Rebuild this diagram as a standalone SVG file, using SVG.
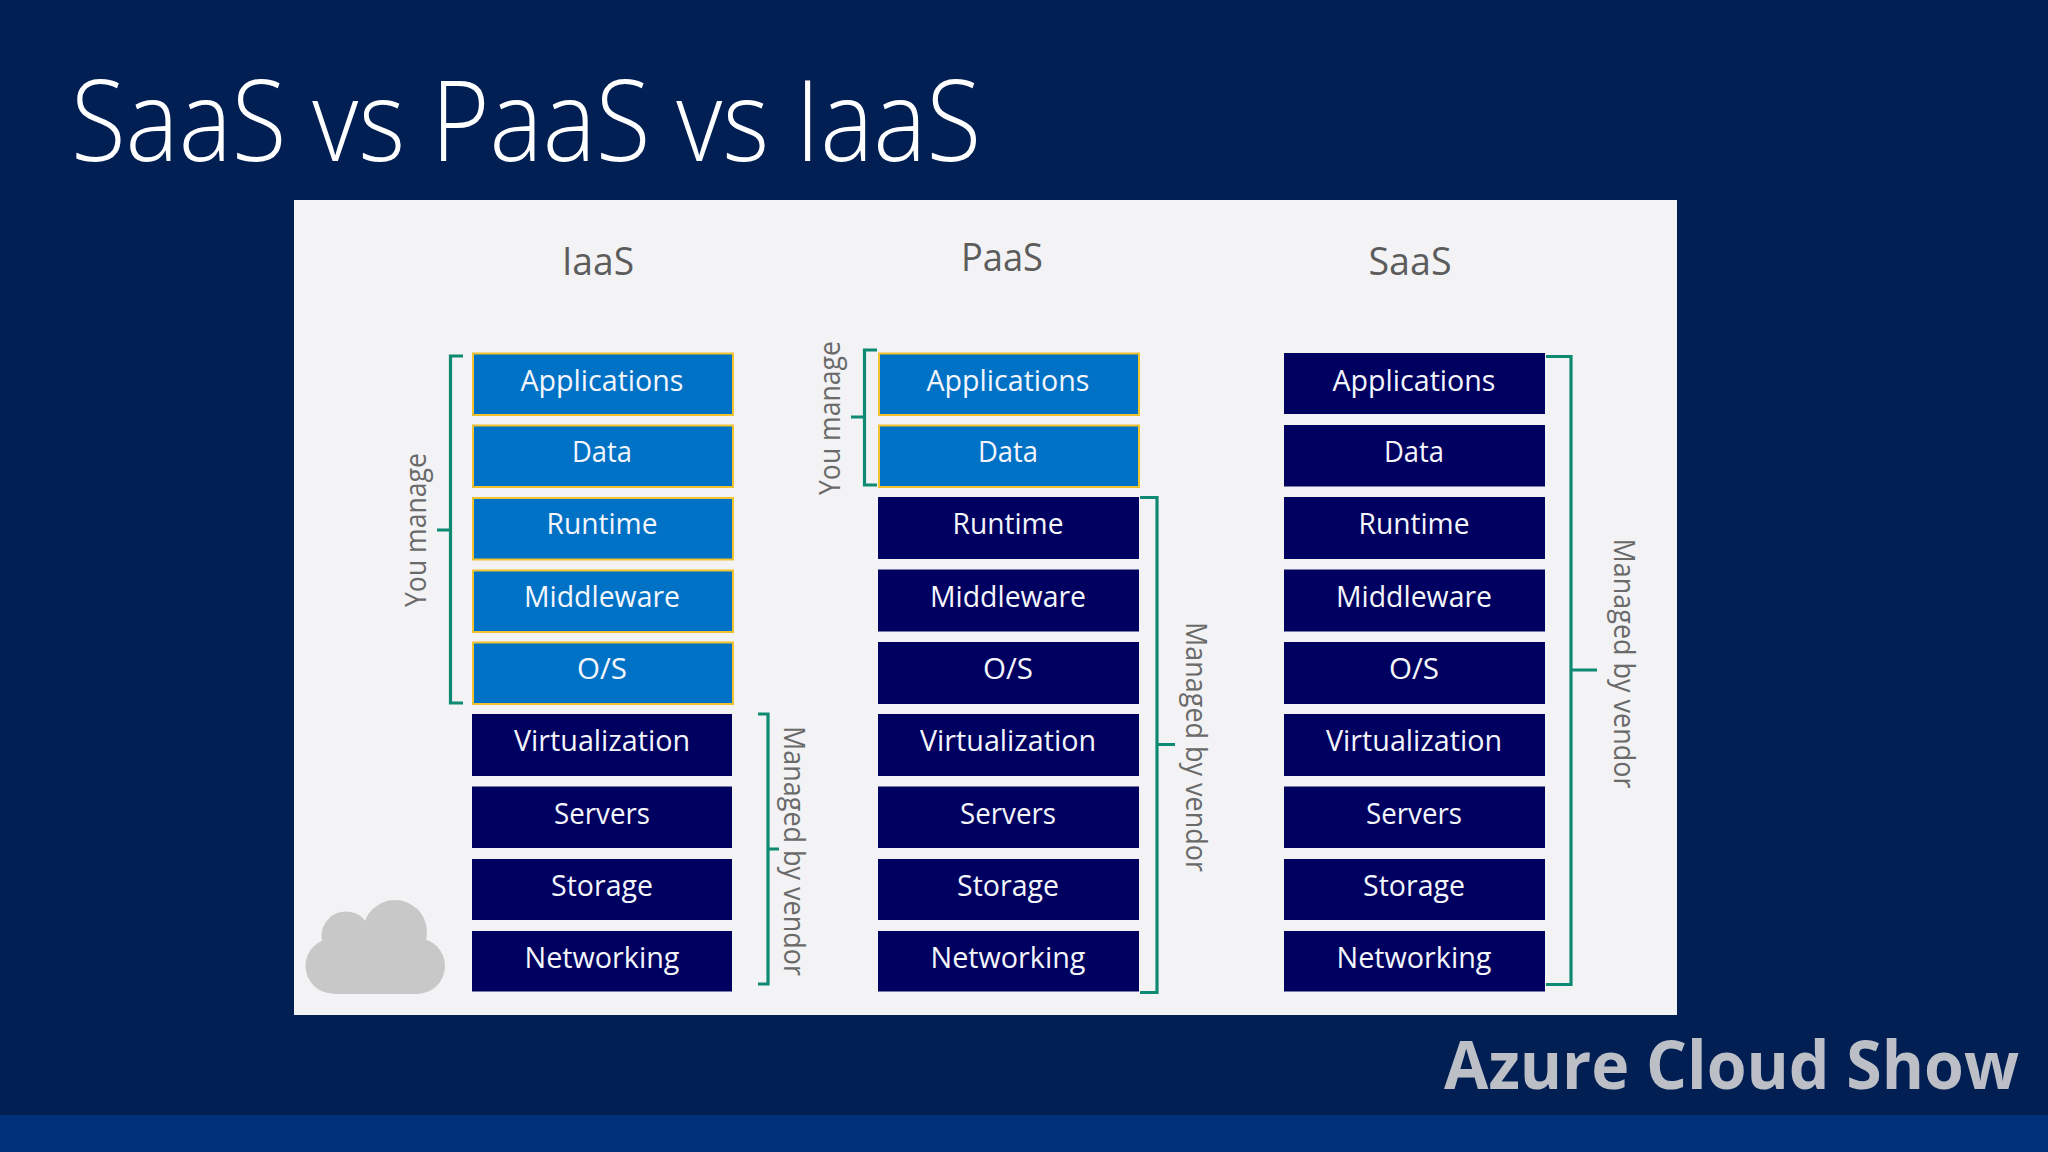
<svg xmlns="http://www.w3.org/2000/svg" width="2048" height="1152" viewBox="0 0 2048 1152">
<style>
text{font-family:"Open Sans","Noto Sans","Liberation Sans",sans-serif}
.t{font-size:112px;font-weight:300;fill:#fff}
.h{font-size:38px;fill:#5c5c5c;text-anchor:middle}
.l{font-size:29px;fill:#f4f6fc;text-anchor:middle}
.s{font-size:29px;fill:#6a6a6a;text-anchor:middle}
.y{fill:#0072c6;stroke:#f2c32e;stroke-width:2}
.n{fill:#000060}
#connectors path{fill:none;stroke:#0f8a72;stroke-width:3.2}
</style>
<rect width="2048" height="1152" fill="#021f54"/>
<rect y="1115" width="2048" height="37" fill="#00307a"/>
<text class="t" x="71" y="161" textLength="910" lengthAdjust="spacingAndGlyphs">SaaS vs PaaS vs IaaS</text>
<rect x="294" y="200" width="1383" height="815" fill="#f3f3f5"/>
<text class="h" x="598" y="275" textLength="72" lengthAdjust="spacingAndGlyphs">IaaS</text>
<text class="h" x="1002" y="271" textLength="82" lengthAdjust="spacingAndGlyphs">PaaS</text>
<text class="h" x="1410" y="275" textLength="83" lengthAdjust="spacingAndGlyphs">SaaS</text>
<g id="cloud" fill="#c8c8c8">
<circle cx="395" cy="932" r="32"/><circle cx="346" cy="936" r="24.500"/><circle cx="333" cy="966" r="27.500"/><circle cx="417" cy="966" r="28"/><rect x="333" y="940" width="84" height="54"/><rect x="322" y="945" width="104" height="20"/>
</g>
<g id="connectors">
<path d="M463 356H450.500V703H463M450.500 530H437"/>
<path d="M758 714H768V984H758M768 849H779"/>
<path d="M877 350H864.500V485H877M864.500 417H851"/>
<path d="M1140 497.500H1157V992.500H1140M1157 744.500H1175"/>
<path d="M1546 356.500H1571V984.500H1546M1571 670H1597"/>
</g>
<g id="iaas-applications"><rect class="y" x="473" y="353.500" width="260" height="61.500"/><text class="l" x="602" y="391" textLength="163" lengthAdjust="spacingAndGlyphs">Applications</text></g>
<g id="iaas-data"><rect class="y" x="473" y="425.500" width="260" height="61.500"/><text class="l" x="602" y="462" textLength="60" lengthAdjust="spacingAndGlyphs">Data</text></g>
<g id="iaas-runtime"><rect class="y" x="473" y="498" width="260" height="61.500"/><text class="l" x="602" y="534" textLength="111" lengthAdjust="spacingAndGlyphs">Runtime</text></g>
<g id="iaas-middleware"><rect class="y" x="473" y="570.500" width="260" height="61.500"/><text class="l" x="602" y="607" textLength="156" lengthAdjust="spacingAndGlyphs">Middleware</text></g>
<g id="iaas-os"><rect class="y" x="473" y="642.500" width="260" height="61.500"/><text class="l" x="602" y="679" textLength="50" lengthAdjust="spacingAndGlyphs">O/S</text></g>
<g id="iaas-virtualization"><rect class="n" x="472" y="714" width="260" height="62"/><text class="l" x="602" y="751" textLength="176" lengthAdjust="spacingAndGlyphs">Virtualization</text></g>
<g id="iaas-servers"><rect class="n" x="472" y="786.500" width="260" height="61.500"/><text class="l" x="602" y="824" textLength="96" lengthAdjust="spacingAndGlyphs">Servers</text></g>
<g id="iaas-storage"><rect class="n" x="472" y="859" width="260" height="61"/><text class="l" x="602" y="896" textLength="102" lengthAdjust="spacingAndGlyphs">Storage</text></g>
<g id="iaas-networking"><rect class="n" x="472" y="931" width="260" height="60.500"/><text class="l" x="602" y="968" textLength="155" lengthAdjust="spacingAndGlyphs">Networking</text></g>
<g id="paas-applications"><rect class="y" x="879" y="353.500" width="260" height="61.500"/><text class="l" x="1008" y="391" textLength="163" lengthAdjust="spacingAndGlyphs">Applications</text></g>
<g id="paas-data"><rect class="y" x="879" y="425.500" width="260" height="61.500"/><text class="l" x="1008" y="462" textLength="60" lengthAdjust="spacingAndGlyphs">Data</text></g>
<g id="paas-runtime"><rect class="n" x="878" y="497" width="261" height="62"/><text class="l" x="1008" y="534" textLength="111" lengthAdjust="spacingAndGlyphs">Runtime</text></g>
<g id="paas-middleware"><rect class="n" x="878" y="569.500" width="261" height="62"/><text class="l" x="1008" y="607" textLength="156" lengthAdjust="spacingAndGlyphs">Middleware</text></g>
<g id="paas-os"><rect class="n" x="878" y="642" width="261" height="62"/><text class="l" x="1008" y="679" textLength="50" lengthAdjust="spacingAndGlyphs">O/S</text></g>
<g id="paas-virtualization"><rect class="n" x="878" y="714" width="261" height="62"/><text class="l" x="1008" y="751" textLength="176" lengthAdjust="spacingAndGlyphs">Virtualization</text></g>
<g id="paas-servers"><rect class="n" x="878" y="786.500" width="261" height="61.500"/><text class="l" x="1008" y="824" textLength="96" lengthAdjust="spacingAndGlyphs">Servers</text></g>
<g id="paas-storage"><rect class="n" x="878" y="859" width="261" height="61"/><text class="l" x="1008" y="896" textLength="102" lengthAdjust="spacingAndGlyphs">Storage</text></g>
<g id="paas-networking"><rect class="n" x="878" y="931" width="261" height="60.500"/><text class="l" x="1008" y="968" textLength="155" lengthAdjust="spacingAndGlyphs">Networking</text></g>
<g id="saas-applications"><rect class="n" x="1284" y="353" width="261" height="61"/><text class="l" x="1414" y="391" textLength="163" lengthAdjust="spacingAndGlyphs">Applications</text></g>
<g id="saas-data"><rect class="n" x="1284" y="425" width="261" height="61.500"/><text class="l" x="1414" y="462" textLength="60" lengthAdjust="spacingAndGlyphs">Data</text></g>
<g id="saas-runtime"><rect class="n" x="1284" y="497" width="261" height="62"/><text class="l" x="1414" y="534" textLength="111" lengthAdjust="spacingAndGlyphs">Runtime</text></g>
<g id="saas-middleware"><rect class="n" x="1284" y="569.500" width="261" height="62"/><text class="l" x="1414" y="607" textLength="156" lengthAdjust="spacingAndGlyphs">Middleware</text></g>
<g id="saas-os"><rect class="n" x="1284" y="642" width="261" height="62"/><text class="l" x="1414" y="679" textLength="50" lengthAdjust="spacingAndGlyphs">O/S</text></g>
<g id="saas-virtualization"><rect class="n" x="1284" y="714" width="261" height="62"/><text class="l" x="1414" y="751" textLength="176" lengthAdjust="spacingAndGlyphs">Virtualization</text></g>
<g id="saas-servers"><rect class="n" x="1284" y="786.500" width="261" height="61.500"/><text class="l" x="1414" y="824" textLength="96" lengthAdjust="spacingAndGlyphs">Servers</text></g>
<g id="saas-storage"><rect class="n" x="1284" y="859" width="261" height="61"/><text class="l" x="1414" y="896" textLength="102" lengthAdjust="spacingAndGlyphs">Storage</text></g>
<g id="saas-networking"><rect class="n" x="1284" y="931" width="261" height="60.500"/><text class="l" x="1414" y="968" textLength="155" lengthAdjust="spacingAndGlyphs">Networking</text></g>
<text class="s" transform="translate(426 530) rotate(-90)" textLength="154" lengthAdjust="spacingAndGlyphs">You manage</text>
<text class="s" transform="translate(840 418) rotate(-90)" textLength="154" lengthAdjust="spacingAndGlyphs">You manage</text>
<text class="s" transform="translate(784 851) rotate(90)" textLength="250" lengthAdjust="spacingAndGlyphs">Managed by vendor</text>
<text class="s" transform="translate(1186 747) rotate(90)" textLength="250" lengthAdjust="spacingAndGlyphs">Managed by vendor</text>
<text class="s" transform="translate(1614 663.500) rotate(90)" textLength="250" lengthAdjust="spacingAndGlyphs">Managed by vendor</text>
<text x="1444" y="1089" font-size="66" font-weight="700" fill="#bcbfc6" textLength="575" lengthAdjust="spacingAndGlyphs">Azure Cloud Show</text>
</svg>
